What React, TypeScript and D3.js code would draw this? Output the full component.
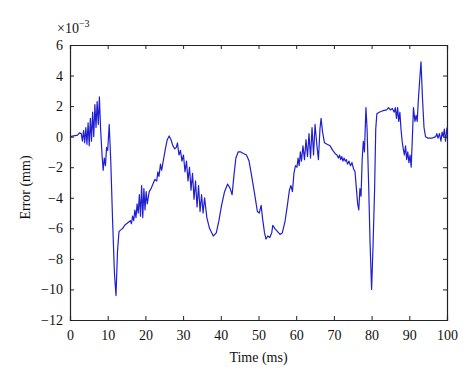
import React, { useEffect, useRef } from "react";
import * as d3 from "d3";

// time in ms, error in units of 1e-3 mm
const timeMs = [
  0, 1, 2, 2.5, 3, 3.3, 3.6, 3.9, 4.2, 4.5, 4.8, 5.1, 5.4, 5.7, 6.0, 6.3, 6.6, 6.9, 7.2, 7.5, 7.8, 8.1, 8.5, 8.8,
  9.1, 9.4, 9.7, 10.0, 10.4, 10.8, 11.3, 11.8, 12.2, 12.6, 13.0, 13.5, 14.0, 14.5, 15.0, 15.5, 16.0, 16.3, 16.6,
  16.9, 17.2, 17.5, 17.8, 18.1, 18.4, 18.7, 19.0, 19.3, 19.6, 19.9, 20.2, 20.5, 21.0, 21.5, 22.0, 22.5, 23.0, 23.3,
  23.6, 24.0, 24.3, 24.8, 25.3, 25.8, 26.3, 26.8, 27.3, 27.8, 28.2, 28.5, 28.9, 29.3, 29.7, 30.1, 30.5, 30.9, 31.3,
  31.7, 32.1, 32.5, 32.9, 33.3, 33.7, 34.1, 34.5, 34.9, 35.3, 35.7, 36.3, 37.0, 38.0, 38.8, 39.5, 40.2, 41.0, 41.8,
  42.5, 43.0, 43.5, 44.0, 44.6, 45.3, 46.0, 46.8, 47.5, 48.2, 49.0, 49.7, 50.2, 50.7, 51.1, 51.6, 52.0, 52.5, 53.0,
  53.5, 53.8, 54.3, 55.0, 55.7, 56.3, 57.0, 57.6, 58.2, 58.6, 59.0, 59.4, 59.8, 60.2, 60.5, 60.8, 61.1, 61.4, 61.8,
  62.2, 62.6, 63.0, 63.4, 63.8, 64.2, 64.6, 65.0, 65.5, 65.9, 66.3, 66.6, 67.0, 67.5, 68.2, 69.0, 69.7, 70.3, 70.8,
  71.2, 71.5, 71.8, 72.1, 72.4, 72.7, 73.0, 73.3, 73.6, 74.0, 74.4, 74.8, 75.2, 75.6, 76.0, 76.3, 76.6, 76.9, 77.2,
  77.5, 77.8, 78.1, 78.5, 78.8, 79.2, 79.6, 80.0, 80.4, 80.8, 81.1, 81.4, 82.0, 83.0, 84.0, 84.5, 85.0, 85.5, 86.0,
  86.3, 86.6, 86.9, 87.2, 87.5, 87.8, 88.1, 88.4, 88.7, 89.0, 89.3, 89.6, 89.9, 90.2, 90.5, 90.8, 91.1, 91.5, 91.8,
  92.1, 92.4, 92.7, 93.1, 93.5, 93.9, 94.3, 95.0, 96.0, 97.0, 97.3, 97.6, 98.0, 98.4, 98.7, 99.0, 99.3, 99.6, 100,
];

const errorVals = [
  0, 0.05, 0.1, 0.25, 0.2, -0.3, 0.4, -0.4, 0.6, -0.5, 0.9, -0.6, 1.2, -0.3, 1.6, 0.0, 2.1, 0.6, 2.3, 0.8, 2.6, 0.6,
  -1.2, -2.2, -1.4, -1.9, -0.7, -0.9, 0.8, -1.5, -5.5, -9.0, -10.4, -7.5, -6.2, -6.1, -6.0, -5.8, -5.7, -5.6, -5.5,
  -5.7, -5.2, -5.5, -4.8, -5.3, -4.4, -5.0, -3.8, -5.2, -3.2, -5.3, -3.4, -4.8, -3.6, -4.4, -3.6, -3.4, -3.1, -2.8,
  -2.9, -2.3, -2.6, -1.8, -2.2, -1.5, -0.8, -0.2, 0.05, -0.2, -0.6, -0.8, -0.7, -0.4, -1.2, -0.9, -1.6, -1.2, -2.3,
  -1.6, -2.9, -2.0, -3.5, -2.4, -4.1, -2.9, -4.6, -3.2, -4.9, -3.8, -5.0, -4.0, -5.3, -6.0, -6.5, -6.3, -5.5, -4.5,
  -3.6, -3.1, -3.4, -3.8, -2.5, -1.4, -1.0, -1.0, -1.1, -1.2, -1.6, -2.6, -3.8, -4.9, -5.0, -4.5, -5.4, -6.3, -6.7,
  -6.5, -6.6, -6.3, -5.8, -6.0, -6.2, -6.4, -6.3, -5.6, -4.6, -3.5, -3.2, -3.6, -2.4, -1.9, -2.0, -1.4, -1.9, -1.0,
  -1.6, -0.6, -1.5, -0.2, -1.3, 0.2, -1.4, 0.6, -1.2, 0.8, -0.6, -1.5, 0.5, 1.2, 0.3, -0.4, -0.5, -0.6, -0.9, -1.1,
  -1.2, -1.4, -1.2, -1.5, -1.3, -1.6, -1.4, -1.6, -1.5, -1.8, -1.6, -1.9, -1.7, -2.1, -2.3, -3.5, -4.4, -4.8, -3.4,
  -3.9, -1.5, -0.3, -1.0, 1.9, 0.5, -3.0, -7.0, -10.0, -7.0, -3.4, 0.5, 1.5, 1.6, 1.7, 1.75, 1.9, 1.75, 1.85, 1.6,
  1.9, 1.2, 1.9, 1.0, 1.6, 0.5, -0.3, -0.8, -1.2, -0.6, -1.5, -1.0, -1.7, -1.2, -2.0, -0.2, 1.9, 1.0, 1.4, 1.0, 2.4,
  3.5, 4.9, 2.5, 0.6, 0.0, -0.1, -0.1, 0.0, 0.2, -0.1, 0.2, -0.3, 0.3, 0.0, 0.5, -0.3, 0.6,
];

const xTicks = [0, 10, 20, 30, 40, 50, 60, 70, 80, 90, 100];
const yTicks = [-12, -10, -8, -6, -4, -2, 0, 2, 4, 6];

const W = 474;
const H = 384;
const margin = { top: 45, right: 27, bottom: 64, left: 70 };
const font = "'Liberation Serif', 'Times New Roman', serif";

export default function App() {
  const ref = useRef<SVGSVGElement>(null);

  useEffect(() => {
    const svg = d3.select(ref.current);
    svg.selectAll("*").remove();

    const iw = W - margin.left - margin.right;
    const ih = H - margin.top - margin.bottom;

    const x = d3.scaleLinear().domain([0, 100]).range([0, iw]);
    const y = d3.scaleLinear().domain([-12, 6]).range([ih, 0]);

    const g = svg.append("g").attr("transform", `translate(${margin.left},${margin.top})`);

    const data = timeMs.map((t, i) => [t, errorVals[i]] as [number, number]);

    g.append("path")
      .datum(data)
      .attr("fill", "none")
      .attr("stroke", "#1f1fd0")
      .attr("stroke-width", 1.2)
      .attr("stroke-linejoin", "round")
      .attr("d", d3.line<[number, number]>().x((d) => x(d[0])).y((d) => y(d[1])));

    // axes with inward ticks
    const bottom = g.append("g")
      .attr("transform", `translate(0,${ih})`)
      .call(d3.axisBottom(x).tickValues(xTicks).tickSize(-4).tickPadding(10));
    const left = g.append("g")
      .call(d3.axisLeft(y).tickValues(yTicks).tickSize(-4).tickPadding(7).tickFormat((d) => d3.format("")(d as number).replace("-", "\u2212")));
    const top = g.append("g")
      .call(d3.axisTop(x).tickValues(xTicks).tickSize(-4).tickFormat(() => ""));
    const right = g.append("g")
      .attr("transform", `translate(${iw},0)`)
      .call(d3.axisRight(y).tickValues(yTicks).tickSize(-4).tickFormat(() => ""));

    [bottom, left, top, right].forEach((a) => {
      a.selectAll("path").attr("stroke", "#222").attr("stroke-width", 1.2);
      a.selectAll("line").attr("stroke", "#222");
      a.selectAll("text").attr("font-family", font).attr("font-size", 14).attr("fill", "#111");
    });

    svg.append("text")
      .attr("x", margin.left + iw / 2)
      .attr("y", 362)
      .attr("text-anchor", "middle")
      .attr("font-family", font)
      .attr("font-size", 14)
      .attr("fill", "#111")
      .text("Time (ms)");

    svg.append("text")
      .attr("transform", `translate(30,${margin.top + ih / 2 + 5}) rotate(-90)`)
      .attr("text-anchor", "middle")
      .attr("font-family", font)
      .attr("font-size", 14)
      .attr("fill", "#111")
      .text("Error (mm)");

    const exp = svg.append("text")
      .attr("x", 57)
      .attr("y", 33)
      .attr("font-family", font)
      .attr("font-size", 14)
      .attr("fill", "#111");
    exp.append("tspan").text("\u00d710");
    exp.append("tspan").attr("font-size", 10).attr("dy", -6).text("\u22123");
  }, []);

  return (
    <svg
      ref={ref}
      width={W}
      height={H}
      style={{ position: "absolute", left: 0, top: 0, background: "#fff" }}
    />
  );
}
